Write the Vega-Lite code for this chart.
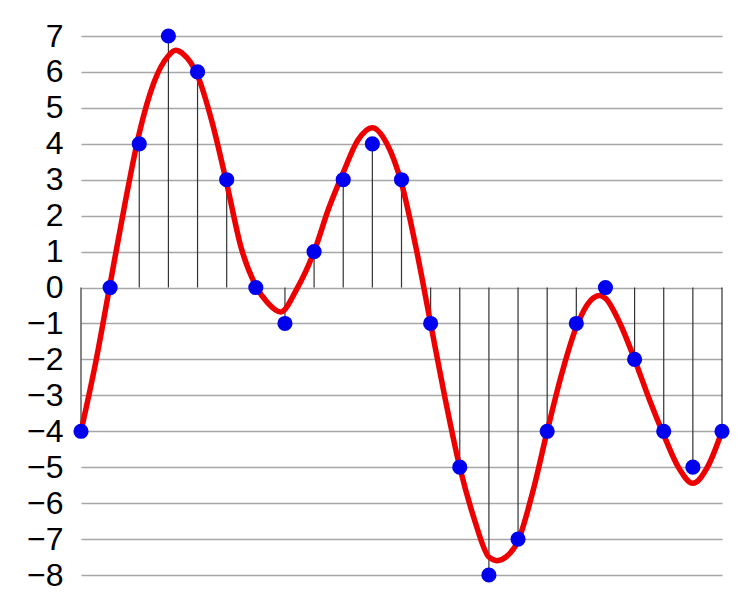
{
  "$schema": "https://vega.github.io/schema/vega-lite/v6.json",
  "autosize": {"type": "none"},
  "width": 641,
  "height": 539,
  "padding": {"left": 81, "top": 36, "right": 28, "bottom": 37},
  "background": "white",
  "config": {"view": {"stroke": null}},
  "datasets": {
    "samples": [
      {"i": 0, "v": -4}, {"i": 1, "v": 0}, {"i": 2, "v": 4}, {"i": 3, "v": 7},
      {"i": 4, "v": 6}, {"i": 5, "v": 3}, {"i": 6, "v": 0}, {"i": 7, "v": -1},
      {"i": 8, "v": 1}, {"i": 9, "v": 3}, {"i": 10, "v": 4}, {"i": 11, "v": 3},
      {"i": 12, "v": -1}, {"i": 13, "v": -5}, {"i": 14, "v": -8}, {"i": 15, "v": -7},
      {"i": 16, "v": -4}, {"i": 17, "v": -1}, {"i": 18, "v": 0}, {"i": 19, "v": -2},
      {"i": 20, "v": -4}, {"i": 21, "v": -5}, {"i": 22, "v": -4}
    ],
    "curve": [
      {"t": 0, "s": -4.0}, {"t": 0.5, "s": -2.1}, {"t": 1, "s": 0.1}, {"t": 1.5, "s": 2.3},
      {"t": 2, "s": 4.3}, {"t": 2.5, "s": 5.7}, {"t": 3, "s": 6.45}, {"t": 3.25, "s": 6.6},
      {"t": 3.5, "s": 6.5}, {"t": 4, "s": 5.9}, {"t": 4.5, "s": 4.6}, {"t": 5, "s": 2.9},
      {"t": 5.5, "s": 1.1}, {"t": 6, "s": 0.05}, {"t": 6.4, "s": -0.42}, {"t": 6.85, "s": -0.68},
      {"t": 7.4, "s": -0.05}, {"t": 8, "s": 1.0}, {"t": 8.5, "s": 2.2},
      {"t": 9, "s": 3.2}, {"t": 9.5, "s": 4.1}, {"t": 10, "s": 4.45}, {"t": 10.5, "s": 4.0},
      {"t": 11, "s": 2.9}, {"t": 11.5, "s": 1.1}, {"t": 12, "s": -1.0}, {"t": 12.5, "s": -3.1},
      {"t": 13, "s": -5.0}, {"t": 13.5, "s": -6.45}, {"t": 14, "s": -7.5}, {"t": 14.28, "s": -7.6},
      {"t": 14.6, "s": -7.49}, {"t": 15, "s": -7.05}, {"t": 15.5, "s": -5.7}, {"t": 16, "s": -4.0},
      {"t": 16.5, "s": -2.4}, {"t": 17, "s": -1.1}, {"t": 17.5, "s": -0.35}, {"t": 17.8, "s": -0.22},
      {"t": 18, "s": -0.3}, {"t": 18.5, "s": -1.0}, {"t": 19, "s": -2.0}, {"t": 19.5, "s": -3.1},
      {"t": 20, "s": -4.1}, {"t": 20.5, "s": -5.0}, {"t": 21, "s": -5.45}, {"t": 21.5, "s": -5.0},
      {"t": 22, "s": -4.0}
    ]
  },
  "encoding": {
    "y": {
      "type": "quantitative",
      "scale": {"domain": [-8, 7], "nice": false, "zero": false},
      "axis": {
        "values": [-8, -7, -6, -5, -4, -3, -2, -1, 0, 1, 2, 3, 4, 5, 6, 7],
        "title": null, "domain": false, "ticks": false,
        "grid": true, "gridColor": "#a6a6a6", "gridWidth": 1.5,
        "labelFont": "Liberation Sans", "labelFontSize": 32, "labelColor": "#000000",
        "labelPadding": 18, "labelOverlap": false, "labelBaseline": "middle"
      }
    }
  },
  "layer": [
    {
      "data": {"name": "samples"},
      "mark": {"type": "rule", "color": "#333333", "strokeWidth": 1.2},
      "encoding": {
        "x": {"field": "i", "type": "quantitative", "scale": {"domain": [0, 22], "nice": false, "zero": false}, "axis": null},
        "y": {"field": "v"},
        "y2": {"datum": 0}
      }
    },
    {
      "data": {"name": "curve"},
      "mark": {"type": "line", "color": "#ee0000", "strokeWidth": 5.5, "interpolate": "monotone", "strokeCap": "round", "strokeJoin": "round"},
      "encoding": {
        "x": {"field": "t", "type": "quantitative"},
        "y": {"field": "s"}
      }
    },
    {
      "data": {"name": "samples"},
      "mark": {"type": "point", "filled": true, "shape": "circle", "color": "#0000ee", "size": 230, "opacity": 1},
      "encoding": {
        "x": {"field": "i", "type": "quantitative"},
        "y": {"field": "v"}
      }
    }
  ]
}
